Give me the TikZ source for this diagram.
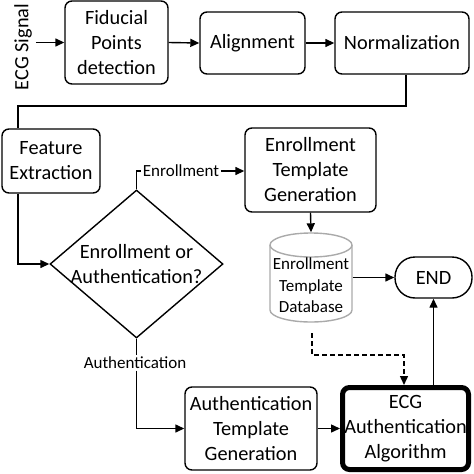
\documentclass[tikz,border=0pt]{standalone}
\usepackage{fontspec}
\setmainfont{Carlito}
\usetikzlibrary{arrows.meta,shapes.geometric}

\begin{document}
\begin{tikzpicture}[x=1pt,y=-1pt,line width=1.4pt,
    font=\fontsize{20.3}{25}\selectfont,
    stagebox/.style={shape=rectangle,draw,rounded corners=7pt,align=center,inner sep=0pt},
    lbl/.style={font=\fontsize{17}{20}\selectfont,inner sep=1pt},
    arr/.style={-{Triangle[length=9pt,width=8pt]}}]
    \definecolor{dbgray}{RGB}{170,170,170}
    \useasboundingbox (0,0) rectangle (474,474);
    \node[rotate=90] (sig) at (23,47) {ECG Signal};
    \node[stagebox,minimum width=103pt,minimum height=83pt] (fid) at (116.5,42.5) {Fiducial\\Points\\detection};
    \node[stagebox,minimum width=105pt,minimum height=62pt] (align) at (252.5,43) {Alignment};
    \node[stagebox,minimum width=134pt,minimum height=62pt] (norm) at (402,43) {Normalization};
    \node[stagebox,minimum width=98pt,minimum height=64pt] (feat) at (51,161) {Feature\\Extraction};
    \node[shape=diamond,draw,minimum width=173pt,minimum height=148pt,inner sep=0pt] (choice) at (136.5,264) {};
    \node[align=center] (choicetxt) at (136.5,264.5) {Enrollment or\\Authentication?};
    \node[stagebox,minimum width=131pt,minimum height=84pt] (enrgen) at (310.5,170) {Enrollment\\Template\\Generation};
    % database cylinder
    \node[minimum width=82pt,minimum height=89pt,inner sep=0pt] (db) at (311,277.5) {};
    \draw[dbgray] (270,245) -- (270,310) arc[start angle=180,end angle=360,x radius=41pt,y radius=12pt] -- (352,245);
    \draw[dbgray] (311,245) ellipse [x radius=41pt,y radius=12pt];
    \node[align=center,font=\fontsize{17}{21.5}\selectfont] (dbtxt) at (311,285.5) {Enrollment\\Template\\Database};
    \node[draw,rounded corners=20pt,minimum width=77pt,minimum height=41pt] (finish) at (433.5,277.5) {END};
    \node[stagebox,minimum width=132pt,minimum height=83pt] (authgen) at (251,428.5) {Authentication\\Template\\Generation};
    \node[stagebox,line width=5pt,minimum width=126pt,minimum height=82pt] (algo) at (405.5,428.5) {ECG\\Authentication\\Algorithm};
    \node[lbl] (enrlbl) at (181,171) {Enrollment};
    \node[lbl] (authlbl) at (135,363) {Authentication};
    \coordinate (bend) at (18,106);
    \coordinate (dashstart) at (312,333);
    \coordinate (dashbend) at (404,355);
    \draw[arr] (sig.south |- fid.west) -- (fid.west);
    \draw[arr] (fid.east) -- (align.west);
    \draw[arr] (align.east) -- (norm.west);
    \draw ([xshift=4pt]norm.south) |- (bend) -- (bend |- feat.north);
    \draw[arr] (bend |- feat.south) |- (choice.west);
    \draw (choice.north) |- (enrlbl.west);
    \draw[arr] (enrlbl.east) -- (enrgen.west |- enrlbl.east);
    \draw[arr] (enrgen.south) -- (db.north);
    \draw[arr] (db.east) -- (finish.west);
    \draw (choice.south) -- (authlbl.north -| choice.south);
    \draw[arr] (authlbl.south -| choice.south) |- (authgen.west);
    \draw[arr] (authgen.east) -- (algo.west);
    \draw[arr] (algo.north -| finish) -- (finish.south);
    \draw[arr,dash pattern=on 5pt off 3pt] (dashstart) |- (dashbend) -- (dashbend |- algo.north);
\end{tikzpicture}
\end{document}
